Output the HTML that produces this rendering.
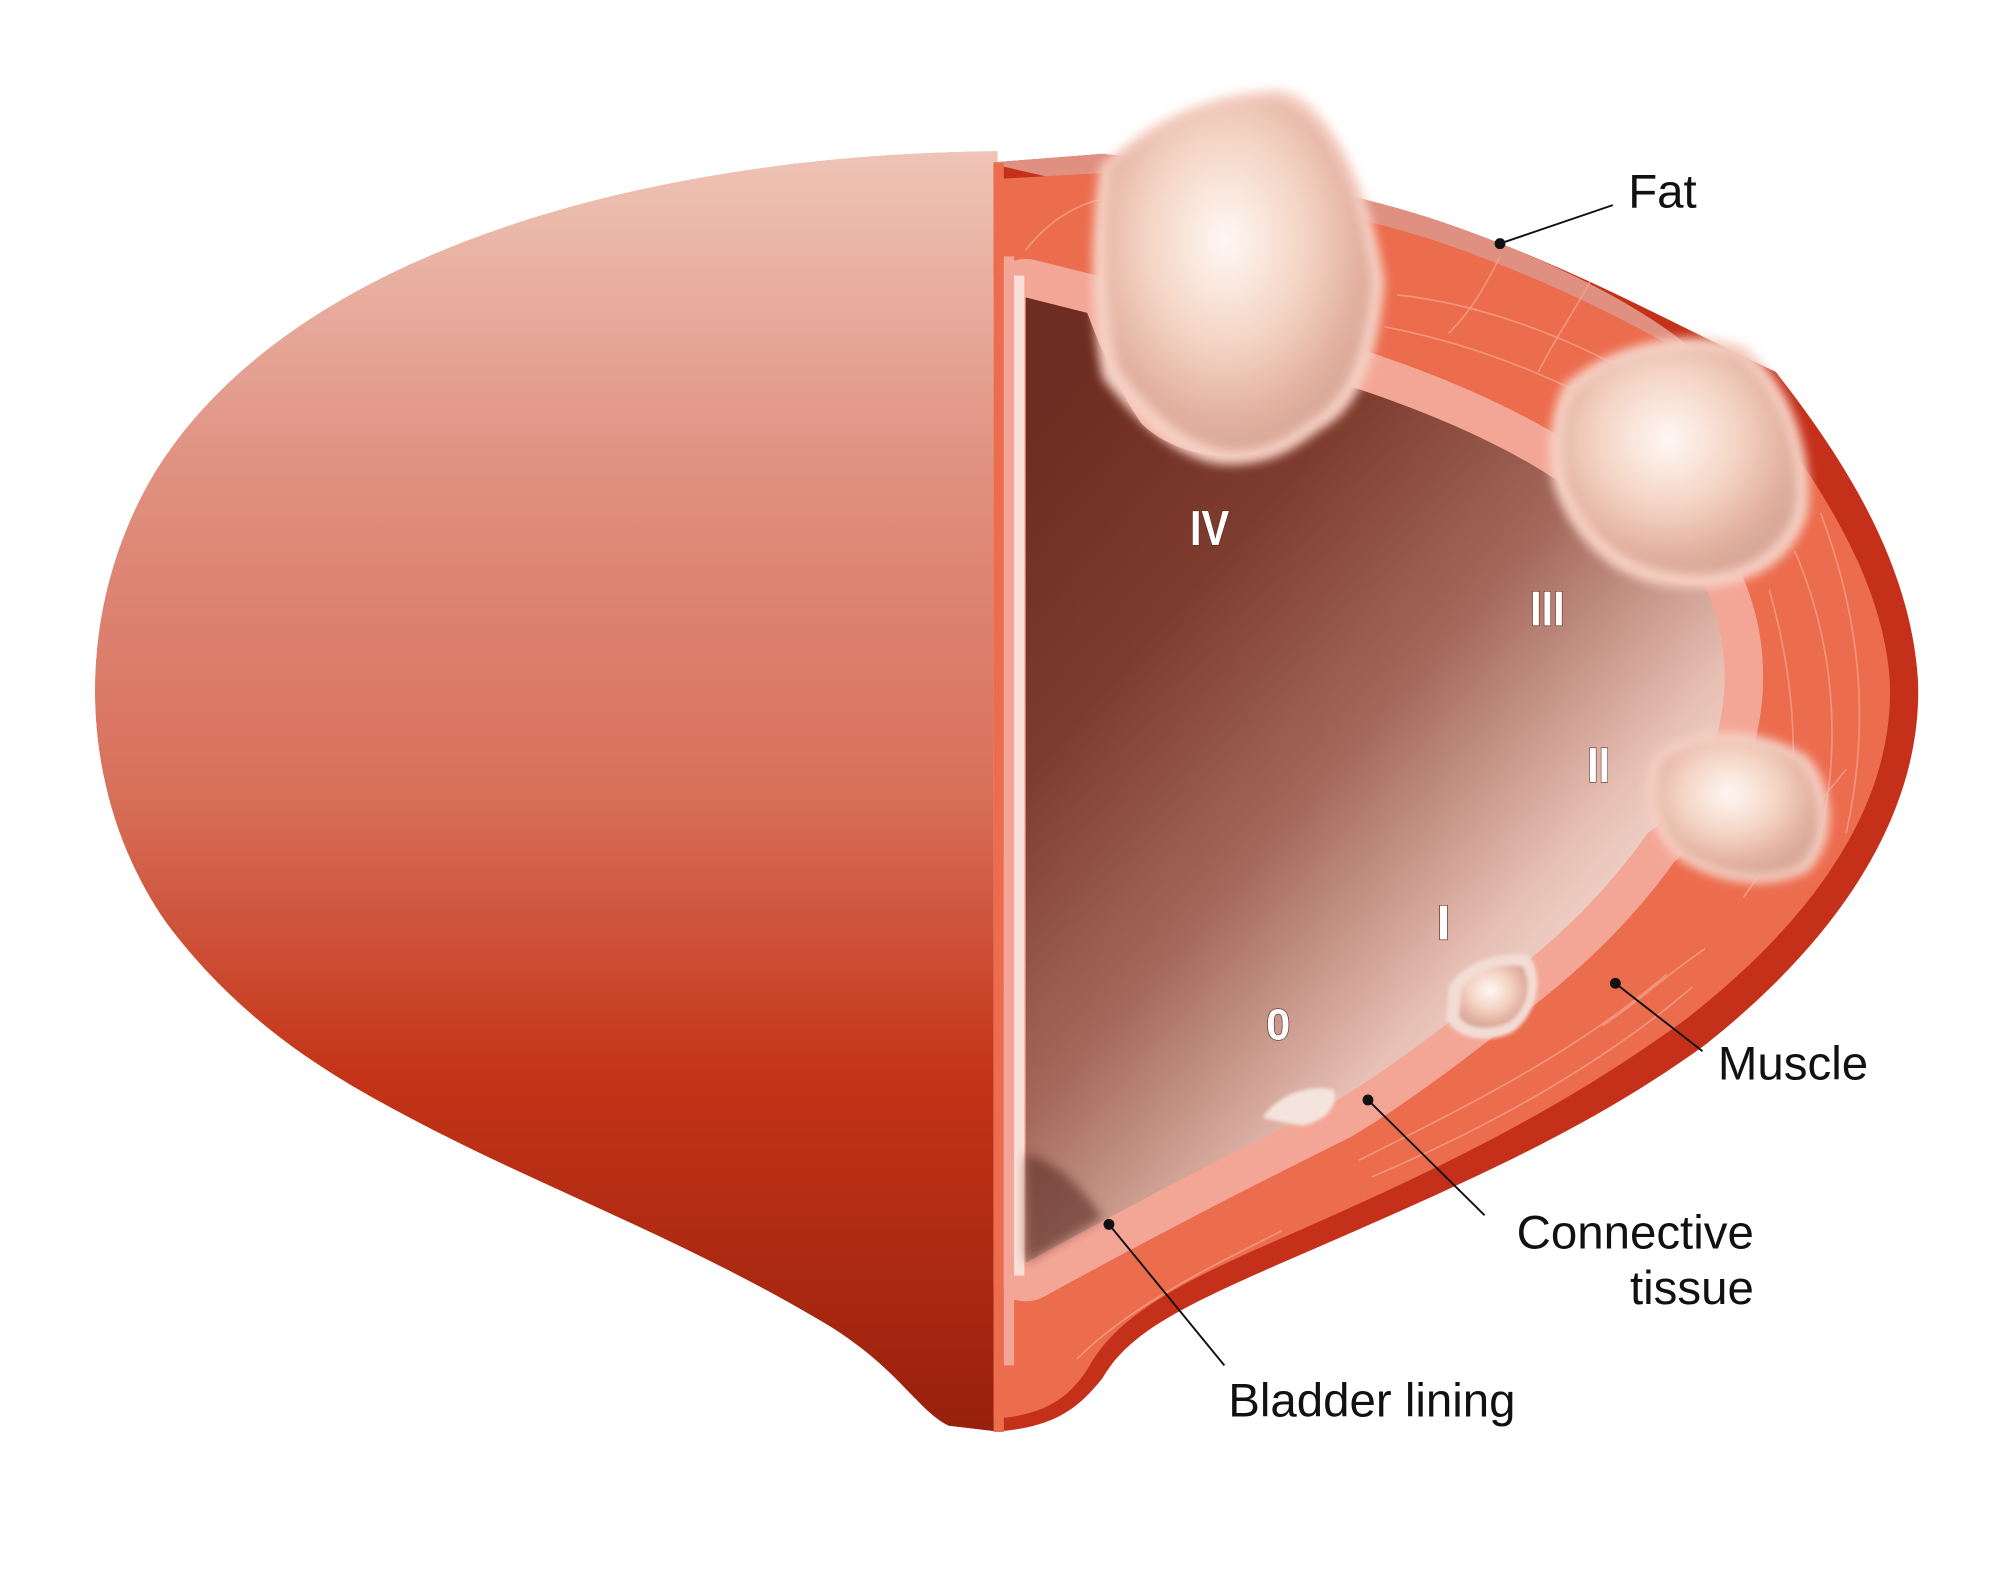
<!DOCTYPE html>
<html><head><meta charset="utf-8"><style>
html,body{margin:0;padding:0;background:#fff;}
svg{display:block;}
text{font-family:"Liberation Sans",sans-serif;}
</style></head><body>
<svg width="2000" height="1571" viewBox="0 0 1560 1225.4" xmlns="http://www.w3.org/2000/svg">
<defs>
<linearGradient id="dome" x1="0" y1="0" x2="0" y2="1">
<stop offset="0" stop-color="#eec4b6"/>
<stop offset="0.25" stop-color="#e09080"/>
<stop offset="0.5" stop-color="#d8705a"/>
<stop offset="0.72" stop-color="#c43418"/>
<stop offset="1" stop-color="#98200c"/>
</linearGradient>
<linearGradient id="domeH" x1="0" y1="0" x2="1" y2="0">
<stop offset="0" stop-color="#b02a10" stop-opacity="0.25"/>
<stop offset="0.3" stop-color="#b02a10" stop-opacity="0.15"/>
<stop offset="0.55" stop-color="#f0a890" stop-opacity="0.15"/>
<stop offset="1" stop-color="#c03a20" stop-opacity="0.1"/>
</linearGradient>
<radialGradient id="domeShade" cx="0.3" cy="0.72" r="0.35">
<stop offset="0" stop-color="#901808" stop-opacity="0.35"/>
<stop offset="1" stop-color="#901808" stop-opacity="0"/>
</radialGradient>
<linearGradient id="cav" x1="0.05" y1="0.1" x2="0.75" y2="0.95">
<stop offset="0" stop-color="#6e2c22"/>
<stop offset="0.25" stop-color="#7e3c2e"/>
<stop offset="0.5" stop-color="#a4695c"/>
<stop offset="0.75" stop-color="#e8c0b4"/>
<stop offset="1" stop-color="#fff4f0"/>
</linearGradient>
<radialGradient id="tum" cx="0.45" cy="0.4" r="0.6">
<stop offset="0" stop-color="#fff8f4"/>
<stop offset="0.5" stop-color="#f4d4c4"/>
<stop offset="0.85" stop-color="#e2b0a0"/>
<stop offset="1" stop-color="#d8a898"/>
</radialGradient>
<filter id="bl" x="-20%" y="-20%" width="140%" height="140%"><feGaussianBlur stdDeviation="4"/></filter>
<filter id="bl2"><feGaussianBlur stdDeviation="1.5"/></filter>
<clipPath id="rc"><rect x="775" y="0" width="800" height="1225"/></clipPath>
</defs>

<!-- left dome -->
<path id="dm" d="M778,118 C520,120 230,190 120,370 C55,480 60,620 130,720 C190,800 260,840 320,872 C420,925 530,965 640,1030 C700,1065 715,1100 740,1112 L782,1117 Z" fill="url(#dome)"/>
<use href="#dm" fill="url(#domeH)"/>
<use href="#dm" fill="url(#domeShade)"/>

<g clip-path="url(#rc)">
<path d="M770,127 L860,120 C950,130 1060,150 1130,175 C1230,210 1300,250 1385,290 C1440,360 1490,440 1496,530 C1500,620 1450,720 1330,815 C1240,880 1150,920 1000,985 C920,1020 880,1040 860,1075 C840,1100 820,1115 770,1117 Z" fill="#c4301a"/>
<path d="M770,127 L860,120 C950,130 1060,150 1130,175 C1230,210 1300,250 1340,290 L1300,300 C1200,240 1100,200 1000,180 Z" fill="#e09080"/>
<path d="M770,140 L860,135 C950,145 1060,168 1120,188 C1220,222 1300,265 1370,310 C1420,380 1468,450 1474,530 C1478,615 1430,705 1315,795 C1225,860 1140,905 990,970 C910,1005 870,1030 850,1065 C835,1090 815,1105 770,1107 Z" fill="#ec6c4e"/>
<g stroke="#f4a08a" stroke-width="1.3" fill="none" opacity="0.8">
<path d="M1090,230 C1180,240 1260,280 1340,330"/>
<path d="M1080,255 C1160,270 1240,305 1300,345"/>
<path d="M1420,400 C1450,480 1460,560 1440,650"/>
<path d="M1400,430 C1430,500 1438,580 1418,660"/>
<path d="M1380,460 C1400,530 1405,600 1390,660"/>
<path d="M1300,760 C1230,820 1150,860 1060,905"/>
<path d="M1320,770 C1250,830 1160,880 1070,918"/>
<path d="M1000,960 C940,990 880,1020 840,1060"/>
<path d="M800,195 C820,170 840,160 860,155"/>
<path d="M1130,260 C1150,240 1160,220 1170,200"/>
<path d="M1200,290 C1215,260 1230,240 1240,220"/>
<path d="M1360,700 C1380,670 1400,650 1440,600"/>
<path d="M1250,800 C1280,780 1300,760 1330,740"/>
</g>
<path id="cv" d="M800,232 L848,244 C858,270 870,300 890,330 C920,360 980,365 1010,340 C1030,320 1040,305 1055,302 C1110,320 1170,345 1215,375 C1240,420 1280,455 1330,458 C1345,490 1350,530 1340,570 C1325,610 1300,640 1285,650 C1250,700 1210,735 1185,755 C1140,790 1090,830 1040,860 C970,895 900,930 800,985 Z" fill="none" stroke="#f4a696" stroke-width="60" stroke-linejoin="round"/>
<use href="#cv" stroke="#fbe0d8" stroke-width="26" fill="none"/>
<path d="M800,232 L848,244 C858,270 870,300 890,330 C920,360 980,365 1010,340 C1030,320 1040,305 1055,302 C1110,320 1170,345 1215,375 C1240,420 1280,455 1330,458 C1345,490 1350,530 1340,570 C1325,610 1300,640 1285,650 C1250,700 1210,735 1185,755 C1140,790 1090,830 1040,860 C970,895 900,930 800,985 Z" fill="url(#cav)"/>
<rect x="775" y="127" width="8" height="990" fill="#ec6c4e"/>
<rect x="783" y="200" width="8" height="865" fill="#f4a696"/>
<rect x="791" y="215" width="8" height="780" fill="#fbe0d8"/>
<path d="M800,900 L800,985 L860,950 C840,920 820,905 800,900 Z" fill="#5a2a22" opacity="0.6" filter="url(#bl)"/>
</g>

<g filter="url(#bl)">
<path d="M858,130 C900,90 950,70 1000,70 C1040,80 1070,150 1080,220 C1075,280 1060,320 1030,335 C1010,350 990,365 950,362 C910,355 880,320 860,295 C850,250 850,180 858,130 Z" fill="#f6d0c4"/>
<path d="M1220,300 C1260,265 1320,255 1360,270 C1400,300 1415,360 1410,400 C1400,440 1360,460 1320,458 C1270,460 1230,430 1212,380 C1205,350 1210,320 1220,300 Z" fill="#f6d0c4"/>
<path d="M1290,590 C1320,565 1370,565 1410,590 C1435,620 1430,660 1410,680 C1380,695 1340,690 1310,670 C1285,650 1280,615 1290,590 Z" fill="#f6d0c4"/>
</g>
<g filter="url(#bl)">
<path d="M866,130 C905,95 950,78 998,78 C1035,90 1062,150 1070,220 C1065,275 1050,312 1022,328 C1000,345 980,355 950,350 C915,340 888,310 872,285 C862,245 860,180 866,130 Z" fill="url(#tum)"/>
<path d="M1228,305 C1265,272 1318,265 1355,278 C1392,305 1405,360 1400,398 C1390,432 1355,450 1320,448 C1275,448 1240,422 1222,378 C1216,350 1218,322 1228,305 Z" fill="url(#tum)"/>
<path d="M1296,594 C1324,572 1368,572 1404,594 C1425,622 1422,658 1404,675 C1378,688 1342,683 1314,665 C1292,647 1288,616 1296,594 Z" fill="url(#tum)"/>
</g>
<g filter="url(#bl2)">
<path d="M1130,770 C1140,752 1165,742 1192,745 C1205,760 1200,790 1180,805 C1160,815 1135,810 1128,795 Z" fill="#f2dcd4"/>
<path d="M1140,772 C1150,758 1170,750 1188,754 C1195,768 1192,788 1176,798 C1160,805 1142,802 1138,792 Z" fill="url(#tum)"/>
<path d="M985,872 C995,855 1020,845 1040,850 C1045,860 1035,875 1015,878 Z" fill="#f4e4de"/>
</g>

<g font-weight="bold" fill="#ffffff" font-size="38" text-anchor="middle" style="paint-order:stroke" stroke="#5a2a22" stroke-width="1">
<text x="944" y="425" transform="scale(0.85,1) translate(166,0)">IV</text>
<text x="1207" y="488" transform="scale(0.85,1) translate(213,0)">III</text>
<text x="1247" y="610" transform="scale(0.85,1) translate(220,0)">II</text>
<text x="1126" y="733">I</text>
<text x="997" y="811" font-size="34">0</text>
</g>

<g stroke="#111" stroke-width="1.5" fill="#111">
<line x1="1170" y1="190" x2="1258" y2="160"/><circle cx="1170" cy="190" r="3.5"/>
<line x1="1260" y1="767" x2="1328" y2="820"/><circle cx="1260" cy="767" r="3.5"/>
<line x1="1067" y1="858" x2="1158" y2="948"/><circle cx="1067" cy="858" r="3.5"/>
<line x1="865" y1="955" x2="955" y2="1065"/><circle cx="865" cy="955" r="3.5"/>
</g>
<g fill="#111" font-size="37">
<text x="1270" y="162">Fat</text>
<text x="1340" y="842">Muscle</text>
<text x="1368" y="974" text-anchor="end">Connective</text>
<text x="1368" y="1017" text-anchor="end">tissue</text>
<text x="958" y="1105">Bladder lining</text>
</g>
</svg>
</body></html>
